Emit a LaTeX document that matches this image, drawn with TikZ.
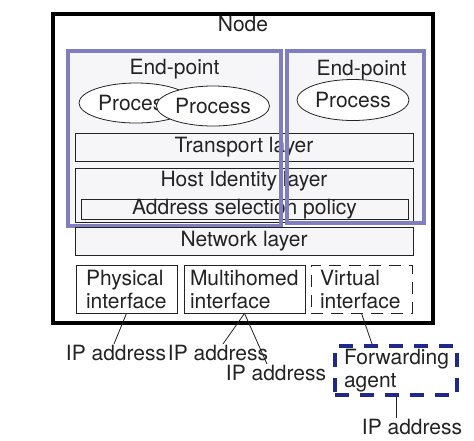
\documentclass[tikz,border=0pt]{standalone}
\usepackage{fontspec}
\setmainfont{TeX Gyre Heros}
\usetikzlibrary{shapes.geometric}
\definecolor{eppurple}{RGB}{128,126,190}
\definecolor{fwdblue}{RGB}{32,40,140}
\definecolor{boxfill}{RGB}{246,246,249}
\definecolor{inkgrey}{RGB}{35,35,35}
\begin{document}
\begin{tikzpicture}[x=1pt, y=-1pt,
  every node/.style={font=\fontsize{21}{23}\selectfont, text=inkgrey},
  layerbox/.style={draw=inkgrey, line width=0.8pt, fill=boxfill, inner sep=0pt},
  proc/.style={ellipse, draw=inkgrey, line width=0.8pt, fill=white, inner sep=0pt},
  ifbox/.style={draw=inkgrey, line width=0.8pt, fill=white, minimum height=48, inner ysep=3pt, align=left},
  epbox/.style={fill=boxfill, inner sep=0pt},
  epline/.style={draw=eppurple, line width=3.5pt},
  iplabel/.style={inner sep=1pt},
  link/.style={draw=inkgrey, line width=0.8pt}]
\useasboundingbox (0,0) rectangle (474,440);
\node[draw=black, line width=4pt, fill=white, minimum width=380, minimum height=309,
  label={[anchor=north, inner sep=4pt]north:Node}] (nodebox) at (243,168.5) {};
\node[epbox, minimum width=213, minimum height=175,
  label={[anchor=north, yshift=-5pt]north:End-point}] (ep1) at (174.5,138.5) {};
\node[epbox, minimum width=137, minimum height=172,
  label={[anchor=north, yshift=-6pt, xshift=6pt]north:End-point}] (ep2) at (355.5,137) {};
\node[proc, minimum width=114, minimum height=40] (procA) at (136,103) {Process};
\node[proc, minimum width=113, minimum height=40] (procB) at (213,106) {Process};
\node[proc, minimum width=112, minimum height=41] (procC) at (353,100) {Process};
\node[layerbox, minimum width=338, minimum height=28] (transport) at (244,147) {Transport layer};
\node[layerbox, minimum width=338, minimum height=54,
  label={[anchor=north, inner sep=3pt]north:Host Identity layer}] (hip) at (244,195) {};
\node[layerbox, minimum width=327, minimum height=19] (asp) at (244.5,209.5) {Address selection policy};
\draw[epline] (ep1.north west) rectangle (ep1.south east);
\draw[epline] (ep2.north west) rectangle (ep2.south east);
\node[layerbox, minimum width=338, minimum height=28] (network) at (244,241) {Network layer};
\node[ifbox, text width=81, inner xsep=10pt] (phys) at (126.5,289) {Physical\\interface};
\node[ifbox, text width=109, inner xsep=6pt] (multi) at (244.5,289) {Multihomed\\interface};
\node[ifbox, text width=83, inner xsep=9pt, dash pattern=on 12pt off 8pt] (virt) at (361.5,289) {Virtual\\interface};
\node[ifbox, draw=fwdblue, line width=4pt, dash pattern=on 14pt off 11pt, minimum height=49,
  text width=104, inner xsep=9pt] (fwd) at (396,370.5) {Forwarding\\agent};
\node[iplabel] (ip1) at (116,353) {IP address};
\node[iplabel] (ip2) at (218,353) {IP address};
\node[iplabel] (ip3) at (276,373) {IP address};
\node[iplabel] (ip4) at (412,427) {IP address};
\draw[link] (phys.south) -- ([xshift=-2pt]ip1.north);
\draw[link] (multi.south) -- ([xshift=5pt]ip2.north);
\draw[link] (multi.south) -- ([xshift=-9pt]ip3.north);
\draw[link] (virt.south) -- ([xshift=-24pt]fwd.north);
\draw[link] (fwd.south) -- (fwd.south |- ip4.north);
\end{tikzpicture}
\end{document}
